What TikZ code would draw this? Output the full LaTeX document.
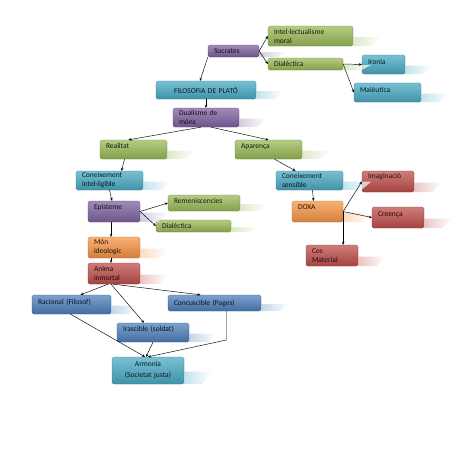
\documentclass[tikz,border=0pt]{standalone}
\usepackage{fontspec}
\setmainfont{Carlito}
\usetikzlibrary{arrows.meta}

\definecolor{cpurple}{HTML}{8064A2}
\definecolor{cgreen}{HTML}{9BBB59}
\definecolor{cteal}{HTML}{4BACC6}
\definecolor{corange}{HTML}{F79646}
\definecolor{cred}{HTML}{C0504D}
\definecolor{cblue}{HTML}{4F81BD}

\tikzset{
  box/.style={draw=#1!70!black, line width=0.3pt, rounded corners=1.5pt,
    top color=#1!75, bottom color=#1!85!black, text=#1!15!black,
    font=\fontsize{7.5}{9}\selectfont, align=left, inner xsep=6pt, inner ysep=0pt},
  wh/.style 2 args={minimum width=#1pt, minimum height=#2pt, text width=#1pt-12pt},
  lift/.style={text depth=#1pt},
  link/.style={-{Stealth[length=3pt,width=2.6pt]}, line width=0.45pt},
}

% reflection to the right of a box
\newcommand{\refl}[2]{%
  \shade[left color=#2!45, right color=white, opacity=0.75]
    ([yshift=-1pt]#1.east) -- ++(28,0) -- ([xshift=18pt]#1.south east)
    -- (#1.south east) -- cycle;}

\begin{document}
\begin{tikzpicture}[x=1pt, y=-1pt]
  \useasboundingbox (0,0) rectangle (453,453);

  % Socrates and his method
  \node[box=cpurple, wh={51}{12}] (socrates) at (233.5,51) {Socrates};
  \node[box=cgreen, wh={85}{20}] (intel) at (310.5,36) {Intel·lectualisme\\moral};
  \node[box=cgreen, wh={75}{12}] (dial) at (305.5,64) {Dialèctica};
  \node[box=cteal, wh={43}{19}, lift=4.5] (ironia) at (383.5,64.5) {Ironia};
  \node[box=cteal, wh={67}{19}, lift=5.5] (maieutica) at (387.5,92.5) {Maièutica};

  % Plato
  \node[box=cteal, wh={100}{18}, align=center] (plato) at (206,90) {FILOSOFIA DE PLATÓ};
  \node[box=cpurple, wh={66}{19}] (dualisme) at (206,117.5) {Dualisme de\\móns};
  \node[box=cgreen, wh={67}{19}, lift=6.5] (realitat) at (133.5,149.5) {Realitat};
  \node[box=cgreen, wh={67}{19}, lift=6.5] (aparenca) at (268.5,149.5) {Aparença};

  % intelligible world
  \node[box=cteal, wh={67}{19}] (intelligible) at (109.5,180.5) {Coneixement\\intel·ligible};
  \node[box=cpurple, wh={52}{21}, lift=8.5] (episteme) at (114,211.5) {Episteme};
  \node[box=cgreen, wh={72}{16}, lift=4.5] (remin) at (204,203) {Remeniscencies};
  \node[box=cgreen, wh={75}{12}] (dialb) at (193.5,226) {Dialèctica};
  \node[box=corange, wh={52}{21}] (mon) at (114,247.5) {Món\\ideologic};
  \node[box=cred, wh={52}{21}] (anima) at (114,273.5) {Anima\\inmortal};

  % sensible world
  \node[box=cteal, wh={67}{19}] (sensible) at (309.5,180.5) {Coneixement\\sensible};
  \node[box=corange, wh={51}{21}, lift=8.5] (doxa) at (317.5,211.5) {DOXA};
  \node[box=cred, wh={52}{21}, lift=10.5] (imaginacio) at (388,181.5) {Imaginació};
  \node[box=cred, wh={52}{21}, lift=7.5] (creenca) at (398,217.5) {Creença};
  \node[box=cred, wh={52}{21}] (cos) at (332,255.5) {Cos\\Material};

  % soul and society
  \node[box=cblue, wh={79}{19}, lift=4.5] (racional) at (71.5,304.5) {Racional (Filosof)};
  \node[box=cblue, wh={93}{16}] (concuscible) at (214.5,303) {Concuscible (Pages)};
  \node[box=cblue, wh={72}{19}, lift=7.5] (irascible) at (153,332.5) {Irascible (soldat)};
  \node[box=cteal, wh={72}{27}, align=center] (armonia) at (148,370.5) {Armonia\\[2pt](Societat justa)};

  \foreach \n/\c in {socrates/cpurple, intel/cgreen, dial/cgreen, ironia/cteal,
      maieutica/cteal, plato/cteal, dualisme/cpurple, realitat/cgreen,
      aparenca/cgreen, intelligible/cteal, episteme/cpurple, remin/cgreen,
      dialb/cgreen, mon/corange, anima/cred, sensible/cteal, doxa/corange,
      imaginacio/cred, creenca/cred, cos/cred, racional/cblue,
      concuscible/cblue, irascible/cblue, armonia/cteal}
    \refl{\n}{\c};

  % Arrows
  \draw[link] (socrates.south west) -- ([xshift=-6pt]plato.north);
  \draw[link] (socrates.east) -- (intel.west);
  \draw[link] (socrates.east) -- (dial.west);
  \draw[link] (dial.east) -- (ironia.west);
  \draw[link] (dial.east) -- (maieutica.west);
  \draw[link] (plato.south) -- (dualisme.north);
  \draw[link] ([xshift=-5pt]dualisme.south) -- ([xshift=-5pt]realitat.north);
  \draw[link] ([xshift=5pt]dualisme.south) -- (aparenca.north);
  \draw[link] ([xshift=-9pt]realitat.south) -- ([xshift=12pt]intelligible.north);
  \draw[link] (intelligible.south) -- ([xshift=-2pt]episteme.north);
  \draw[link] (episteme.east) -- (remin.west);
  \draw[link] (episteme.east) -- (dialb.west);
  \draw[link] ([xshift=-3pt]episteme.south) -- ([xshift=-3pt]mon.north);
  \draw[link] ([xshift=-3pt]mon.south) -- ([xshift=-3pt]anima.north);
  \draw[link] ([xshift=-6pt]anima.south) -- ([xshift=9pt]racional.north);
  \draw[link] ([xshift=-3pt]anima.south) -- ([xshift=-9pt]irascible.north);
  \draw[link] ([xshift=-1pt]anima.south) -- ([xshift=-14pt]concuscible.north);
  \draw[link] ([xshift=6pt]aparenca.south) -- ([xshift=-14pt]sensible.north);
  \draw[link] ([xshift=3pt]sensible.south) -- ([xshift=-4pt]doxa.north);
  \draw[link] (doxa.east) -- (imaginacio.west);
  \draw[link] (doxa.east) -- (creenca.west);
  \draw[link] (doxa.east) -- (doxa.east |- cos.north);
  \draw[link] ([xshift=-1pt]racional.south) -- ([xshift=-3pt]armonia.north);
  \draw[link] (irascible.south) -- ([xshift=-2pt]armonia.north);
  \coordinate (bend) at ([xshift=12pt]concuscible.south |- 0,340);
  \draw[link] ([xshift=12pt]concuscible.south) -- (bend) -- (armonia.north);
\end{tikzpicture}
\end{document}
